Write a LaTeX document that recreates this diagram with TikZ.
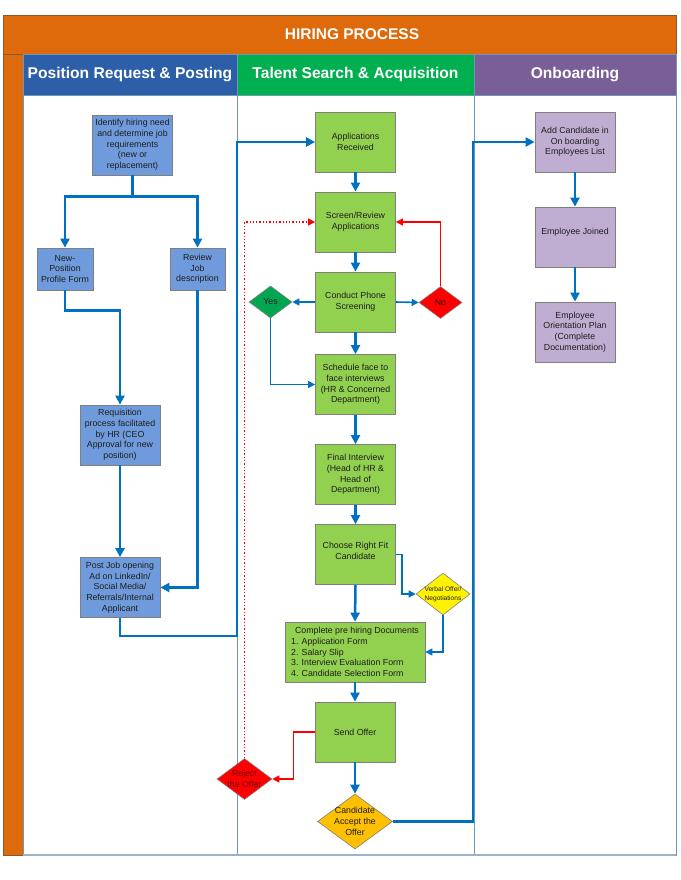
\documentclass[tikz,border=0pt]{standalone}
\usepackage{fontspec}
\setmainfont{Liberation Sans}
\usetikzlibrary{arrows.meta,shapes.geometric,calc}
\definecolor{orangeT}{HTML}{DE6A0C}
\definecolor{blueH}{HTML}{2D5FA8}
\definecolor{greenH}{HTML}{00B050}
\definecolor{purpleH}{HTML}{7A5E98}
\definecolor{laneline}{HTML}{6F95B8}
\definecolor{bottomline}{HTML}{9AB3C8}
\definecolor{boxblue}{HTML}{6F9BDC}
\definecolor{boxgreen}{HTML}{92D050}
\definecolor{boxpurple}{HTML}{C0AED2}
\definecolor{flowblue}{HTML}{0070C0}
\definecolor{yesgreen}{HTML}{00A650}
\definecolor{accepto}{HTML}{FFC000}
\definecolor{boxborder}{HTML}{7F7F7F}
\definecolor{txt}{HTML}{1E1E1E}
\begin{document}
\begin{tikzpicture}[x=1pt,y=-1pt,
  every node/.style={text=txt},
  box/.style={rectangle, draw=boxborder, line width=0.8pt, minimum width=80pt, minimum height=60pt,
    align=center, inner sep=1pt, font=\fontsize{8.8}{10.7}\selectfont},
  bbox/.style={box, fill=boxblue},
  gbox/.style={box, fill=boxgreen},
  pbox/.style={box, fill=boxpurple},
  dia/.style={diamond, draw=boxborder, line width=0.6pt, inner sep=0pt},
  lanehead/.style={rectangle, draw=laneline, line width=0.6pt, text=white,
    font=\fontsize{15.6}{18}\selectfont\bfseries, inner sep=0pt},
  flow/.style={draw=flowblue, line width=2.5pt, -{Triangle[length=9pt,width=9pt]}},
  midflow/.style={draw=flowblue, line width=1.6pt, -{Triangle[length=7pt,width=7pt]}},
  thinflow/.style={draw=flowblue, line width=1.3pt, -{Triangle[length=7pt,width=7pt]}},
  redflow/.style={draw=red, line width=1.3pt, -{Triangle[length=7pt,width=7pt]}},
  reddot/.style={draw=red, line width=1.3pt, dotted, -{Triangle[length=7pt,width=7pt]}},
]
\useasboundingbox (0,0) rectangle (680,880);
% frame
\fill[white] (0,0) rectangle (680,880);
\draw[fill=orangeT, draw=brown!70!black, line width=0.8pt] (3,15) rectangle (676,54);
\node[text=white, font=\fontsize{15.5}{18}\selectfont\bfseries] (title) at (352,34) {HIRING PROCESS};
\draw[fill=orangeT, draw=brown!70!black, line width=0.8pt] (3,54) rectangle (23,855);
\draw[laneline, line width=0.8pt] (23,95) rectangle (237,855);
\draw[laneline, line width=0.8pt] (237,95) rectangle (474,855);
\draw[laneline, line width=0.8pt] (474,95) rectangle (676,855);
\draw[bottomline, line width=2pt] (23,855) -- (676,855);
\node[lanehead, fill=blueH, minimum width=214pt, minimum height=41pt] (h1) at (130,74.5) {Position Request \& Posting};
\node[lanehead, fill=greenH, minimum width=237pt, minimum height=41pt] (h2) at (355.5,74.5) {Talent Search \& Acquisition};
\node[lanehead, fill=purpleH, minimum width=202pt, minimum height=41pt] (h3) at (575,74.5) {Onboarding};

% lane 1
\node[bbox, minimum width=80pt, minimum height=60pt] (ident) at (132.5,145) {Identify hiring need\\and determine job\\requirements\\(new or\\replacement)};
\node[bbox, minimum width=56pt, minimum height=42pt] (newpos) at (65,269) {New-\\Position\\Profile Form};
\node[bbox, minimum width=55pt, minimum height=42pt] (review) at (197.5,269) {Review\\Job\\description};
\node[bbox] (req) at (120,435) {Requisition\\process facilitated\\by HR (CEO\\Approval for new\\position)};
\node[bbox] (post) at (120,587.5) {Post Job opening\\Ad on LinkedIn/\\Social Media/\\Referrals/Internal\\Applicant};

% lane 2
\node[gbox] (apps) at (355.5,142) {Applications\\Received};
\node[gbox] (screen) at (355.5,222) {Screen/Review\\Applications};
\node[gbox] (phone) at (355.5,302) {Conduct Phone\\Screening};
\node[dia, fill=yesgreen, minimum width=43pt, minimum height=32pt,
  label={[font=\fontsize{8.8}{10.7}\selectfont, text=txt]center:Yes}] (yes) at (270.5,302) {};
\node[dia, fill=red, minimum width=43pt, minimum height=32pt,
  label={[font=\fontsize{8.8}{10.7}\selectfont, text=txt]center:No}] (no) at (440.5,302.5) {};
\node[gbox] (sched) at (355.5,384.5) {Schedule face to\\face interviews\\(HR \& Concerned\\Department)};
\node[gbox] (final) at (355.5,474.5) {Final Interview\\(Head of HR \&\\Head of\\Department)};
\node[gbox, text depth=7pt] (choose) at (355.5,554.5) {Choose Right Fit\\Candidate};
\node[dia, fill=yellow, minimum width=54pt, minimum height=42pt,
  label={[font=\fontsize{6.6}{8.6}\selectfont, text=txt, align=center]center:Verbal Offer/\\Negotiations}] (verbal) at (443,594) {};
\node[gbox, minimum width=140pt, align=left] (complete) at (355,652) {\hspace{4pt}Complete pre hiring Documents\\1. Application Form\\2. Salary Slip\\3. Interview Evaluation Form\\4. Candidate Selection Form};
\node[gbox] (send) at (355,732) {Send Offer};
\node[dia, fill=accepto, minimum width=75pt, minimum height=55pt,
  label={[font=\fontsize{8.8}{10.7}\selectfont, text=txt, align=center]center:Candidate\\Accept the\\Offer}] (accept) at (355,821.5) {};
\node[dia, fill=red, minimum width=55pt, minimum height=41pt,
  label={[font=\fontsize{8.8}{10.7}\selectfont, text=red!45!black, align=center]center:Reject\\the Offer}] (reject) at (244.5,779) {};

% lane 3
\node[pbox] (add) at (575,142) {Add Candidate in\\On boarding\\Employees List};
\node[pbox, text depth=12pt] (joined) at (575,237) {Employee Joined};
\node[pbox] (orient) at (575,332) {Employee\\Orientation Plan\\(Complete\\Documentation)};

\coordinate (c1) at (237,636);
\coordinate (c2) at (473,821.5);

% connectors lane 1
\draw[flow] (ident.south) -- ++(0,21) -| (newpos.north);
\draw[flow] (ident.south) -- ++(0,21) -| (review.north);
\draw[flow] (newpos.south) -- ++(0,20) -| (req.north);
\draw[flow] (req.south) -- (post.north);
\draw[flow] (review.south) |- (post.east);
\draw[flow] (post.south) |- (c1) |- (apps.west);

% connectors lane 2
\draw[flow] (apps.south) -- (screen.north);
\draw[flow] (screen.south) -- (phone.north);
\draw[flow] (phone.south) -- (sched.north);
\draw[flow] (sched.south) -- (final.north);
\draw[flow] (final.south) -- (choose.north);
\draw[flow] (choose.south) -- (complete.north);
\draw[flow] (complete.south) -- (send.north);
\draw[flow] (send.south) -- (accept.north);
\draw[midflow] (phone.west) -- (yes.east);
\draw[midflow] (phone.east) -- (no.west);
\draw[thinflow] (yes.south) |- (sched.west);
\draw[redflow] (no.north) |- (screen.east);
\draw[thinflow] (choose.east) -- ++(6,0) |- (verbal.west);
\draw[thinflow] (verbal.south) |- (complete.east);
\draw[redflow] (send.west) -- ++(-21,0) |- (reject.east);
\draw[reddot] (reject.north) |- (screen.west);
\draw[flow] (accept.east) -- (c2) |- (add.west);

% connectors lane 3
\draw[flow] (add.south) -- (joined.north);
\draw[flow] (joined.south) -- (orient.north);
\end{tikzpicture}
\end{document}
